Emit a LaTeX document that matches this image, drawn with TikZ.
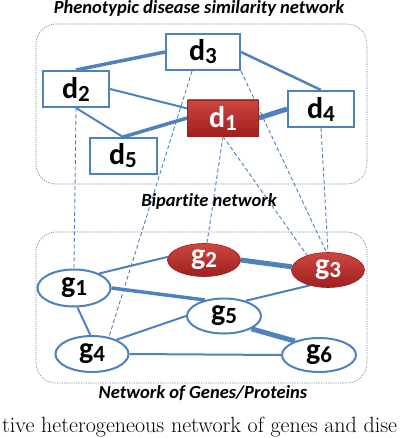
\documentclass[tikz,border=0pt]{standalone}
\usepackage{fontspec}
\usepackage{tikz}
\usetikzlibrary{arrows.meta, shapes.geometric, positioning, backgrounds}
\newfontfamily\calfont[Ligatures=NoCommon]{Carlito}
\definecolor{linkblue}{RGB}{79,129,189}
\definecolor{hitred}{RGB}{205,70,64}
\definecolor{hitdark}{RGB}{158,32,30}
\definecolor{boxgrey}{RGB}{110,125,150}
\newcommand{\nd}[2]{#1\raisebox{-3pt}{\fontsize{23}{23}\selectfont #2}}

\begin{document}
\begin{tikzpicture}[x=1pt, y=-1pt,
    dis/.style={rectangle, draw=linkblue, line width=2pt, fill=white, inner sep=0pt,
                minimum width=66pt, minimum height=36pt, font=\calfont\bfseries\fontsize{30}{30}\selectfont},
    gen/.style={ellipse, draw=linkblue, line width=2pt, fill=white, inner sep=0pt,
                minimum width=73pt, minimum height=35pt, font=\calfont\bfseries\fontsize{30}{30}\selectfont},
    hit/.style={draw=hitdark, line width=0.6pt, top color=hitred, bottom color=hitdark, text=white},
    frame/.style={draw=boxgrey, line width=0.6pt, dash pattern=on 1.2pt off 1.2pt, rounded corners=20pt,
                  inner sep=0pt},
    lbl/.style={font=\calfont\bfseries\itshape\fontsize{18.5}{18.5}\selectfont},
    tie/.style={draw=linkblue, line width=2pt},
    assoc/.style={draw=linkblue, line width=0.9pt, dash pattern=on 4pt off 2.5pt}]
            \useasboundingbox (0,0) rectangle (406,438);
            \node[frame, minimum width=331pt, minimum height=160pt] (dbox) at (201.5,104) {};
            \node[frame, minimum width=331pt, minimum height=151pt] (gbox) at (201.5,307.5) {};
            \node[lbl] (dtitle) at (199,8) {Phenotypic disease similarity network};
            \node[lbl] (btitle) at (209,201) {Bipartite network};
            \node[lbl] (gtitle) at (203,393) {Network of Genes/Proteins};
            \node[anchor=base west, font=\fontsize{22}{22}\selectfont, inner sep=0pt] (cap) at (2,432)
                {tive heterogeneous network of genes and dise};
            \node[dis, minimum width=74pt] (d3) at (203,52) {\nd{d}{3}};
            \node[dis] (d2) at (76,89) {\nd{d}{2}};
            \node[dis, hit, minimum width=71pt] (d1) at (223,118) {\nd{d}{1}};
            \node[dis] (d4) at (321,109) {\nd{d}{4}};
            \node[dis, minimum width=67pt] (d5) at (123,156) {\nd{d}{5}};
            \node[gen, minimum height=37pt] (g1) at (74,288) {\nd{g}{1}};
            \node[gen, hit, minimum height=33pt] (g2) at (204,260) {\nd{g}{2}};
            \node[gen, hit] (g3) at (328,270) {\nd{g}{3}};
            \node[gen, minimum width=74pt] (g5) at (224,316) {\nd{g}{5}};
            \node[gen, minimum height=36pt] (g4) at (92,354) {\nd{g}{4}};
            \node[gen, minimum width=74pt, minimum height=34pt] (g6) at (319,355) {\nd{g}{6}};
            \begin{scope}[on background layer]
                \draw[assoc] (d2.south) -- (g1.north);
                \draw[assoc] (d3.240) -- (g4.45);
                \draw[assoc] (d1.south) -- (g2.80);
                \draw[assoc] (d1.south) -- (g3.145);
                \draw[assoc] (d3.south east) -- (g3.95);
                \draw[assoc] (d4.south) -- (g3.north);
                \draw[tie, line width=3.5pt] (d2.north) -- (d3.west);
                \draw[tie, line width=2.5pt] (d3.east) -- (d4.north);
                \draw[tie] (d2.east) -- (d1.165);
                \draw[tie] (d2.south) -- (d5.north);
                \draw[tie, line width=3.5pt] (d5.north) -- (d1.west);
                \draw[tie, line width=5pt] (d1.east) -- (d4.west);
                \draw[tie] (g1.30) -- (g2.175);
                \draw[tie, line width=5pt] (g2.east) -- (g3.175);
                \draw[tie, line width=3.5pt] (g1.east) -- (g5.140);
                \draw[tie] (g5.35) -- (g3.-140);
                \draw[tie] (g1.-80) -- (g4.95);
                \draw[tie] (g4.30) -- (g5.west);
                \draw[tie, line width=5pt] (g5.-25) -- (g6.150);
                \draw[tie] (g4.east) -- (g6.west);
            \end{scope}
        \end{tikzpicture}
\end{document}
